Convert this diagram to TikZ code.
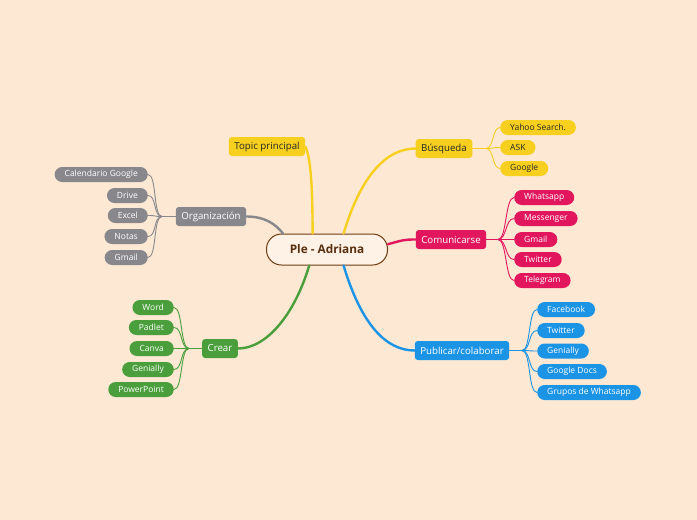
\documentclass[tikz,border=0pt]{standalone}
\usepackage{fontspec}
\setmainfont{Open Sans}
\usetikzlibrary{positioning}

\definecolor{bg}{RGB}{253,232,211}
\definecolor{yel}{RGB}{247,208,31}
\definecolor{pnk}{RGB}{225,22,93}
\definecolor{blu}{RGB}{27,148,230}
\definecolor{gry}{RGB}{136,136,140}
\definecolor{grn}{RGB}{74,159,60}
\definecolor{brn}{RGB}{110,60,20}

\tikzset{
  ple/.style={draw=brn,line width=1pt,fill=bg!60!white,text=brn!80!black,rounded corners=15pt,
    minimum width=121pt,minimum height=31pt,font=\fontsize{11.8}{13}\selectfont\bfseries},
  topic/.style={fill=#1,text=white,rounded corners=3pt,minimum height=19pt,inner xsep=5.5pt,inner ysep=0pt,
    font=\fontsize{9.7}{11}\selectfont},
  leaf/.style={fill=#1,text=white,rounded corners=7.5pt,minimum height=15pt,inner xsep=10pt,inner ysep=0pt,
    font=\fontsize{8.5}{10}\selectfont},
  branch/.style={draw=#1,line width=2.4pt,line cap=round},
  twig/.style={draw=#1,line width=0.9pt}
}

\begin{document}
\begin{tikzpicture}[x=1pt,y=-1pt]
\fill[bg] (0,0) rectangle (697,520);
\useasboundingbox (0,0) rectangle (697,520);

\node[ple] (ple) at (327,249.5) {Ple - Adriana};

\node[topic=yel,text=black!85] (topic) at (267,146.5) {Topic principal};
\node[topic=yel,text=black!85] (busq) at (444,148.5) {Búsqueda};
\node[topic=pnk] (com) at (451,239.5) {Comunicarse};
\node[topic=blu] (pub) at (462,350.5) {Publicar/colaborar};
\node[topic=gry] (org) at (211,216.5) {Organización};
\node[topic=grn] (crear) at (220,348.5) {Crear};

% main branches
\draw[branch=yel] (ple.132) .. controls +(0,-50) and +(5,10) .. (topic.east);
\draw[branch=yel] (ple.44) .. controls +(18,-60) and +(-28,0) .. (busq.west);
\draw[branch=pnk] (ple.5) .. controls +(15,-4) and +(-12,0) .. (com.west);
\draw[branch=blu] (ple.-44) .. controls +(18,60) and +(-28,0) .. (pub.west);
\draw[branch=grn] (ple.-138) .. controls +(-15,50) and +(28,0) .. (crear.east);
\draw[branch=gry] (ple.160) .. controls +(-8,-10) and +(18,0) .. (org.east);

% forks
\coordinate (busqfork) at (486,148.5);
\coordinate (comfork) at (498,239.5);
\coordinate (pubfork) at (522,350.5);
\coordinate (orgfork) at (162,216.5);
\coordinate (crearfork) at (189,348.5);
\draw[twig=yel] (busq.east) -- (busqfork);
\draw[twig=pnk,line width=1.5pt] (com.east) -- (comfork);
\draw[twig=blu,line width=1.5pt] (pub.east) -- (pubfork);
\draw[twig=gry,line width=1.5pt] (org.west) -- (orgfork);
\draw[twig=grn,line width=1.5pt] (crear.west) -- (crearfork);

\foreach \name/\txt/\y in {yahoo/Yahoo Search./127.5,ask/ASK/147.5,google/Google/168.5}{
  \draw[twig=yel] (busqfork) .. controls +(8,0) and +(-8,0) .. (500,\y);
  \node[leaf=yel,text=black!85,anchor=west] (\name) at (500,\y) {\txt};
}
\foreach \name/\txt/\y in {whats/Whatsapp/197.5,messenger/Messenger/218.5,gmailc/Gmail/239.5,
    twitterc/Twitter/259.5,telegram/Telegram/280.5}{
  \draw[twig=pnk] (comfork) .. controls +(9,0) and +(-9,0) .. (514,\y);
  \node[leaf=pnk,anchor=west] (\name) at (514,\y) {\txt};
}
\foreach \name/\txt/\y in {facebook/Facebook/309.5,twitterp/Twitter/330.5,geniallyp/Genially/351,
    gdocs/Google Docs/371.5,grupos/Grupos de Whatsapp/392.5}{
  \draw[twig=blu] (pubfork) .. controls +(9,0) and +(-9,0) .. (537,\y);
  \node[leaf=blu,anchor=west] (\name) at (537,\y) {\txt};
}
\foreach \name/\txt/\y in {calendario/Calendario Google/174.5,drive/Drive/195.5,excel/Excel/215.5,
    notas/Notas/236.5,gmailo/Gmail/257.5}{
  \draw[twig=gry] (orgfork) .. controls +(-9,0) and +(9,0) .. (148,\y);
  \node[leaf=gry,anchor=east] (\name) at (148,\y) {\txt};
}
\foreach \name/\txt/\y in {word/Word/307.5,padlet/Padlet/327.5,canva/Canva/348.5,
    geniallyc/Genially/369.5,ppt/PowerPoint/389.5}{
  \draw[twig=grn] (crearfork) .. controls +(-9,0) and +(9,0) .. (174,\y);
  \node[leaf=grn,anchor=east] (\name) at (174,\y) {\txt};
}
\end{tikzpicture}
\end{document}
